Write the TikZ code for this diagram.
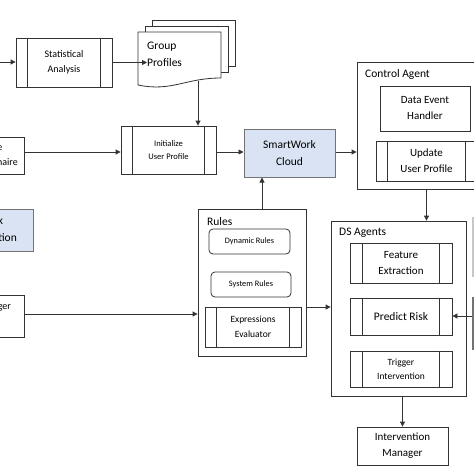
\documentclass[tikz,border=0pt]{standalone}
\usepackage{fontspec}
\setmainfont{Carlito}
\usetikzlibrary{arrows.meta,calc}
\definecolor{lblue}{RGB}{218,227,243}
\newcommand{\procbars}[2]{\draw[ln] ([xshift=#2]#1.north west) -- ([xshift=#2]#1.south west) ([xshift=-#2]#1.north east) -- ([xshift=-#2]#1.south east);}
\begin{document}
\begin{tikzpicture}[x=1pt,y=-1pt,
  ln/.style={draw=black!80,line width=0.8pt},
  arr/.style={ln,-{Triangle[length=5pt,width=5pt]}},
  box/.style={ln,rectangle,inner sep=0pt,align=center,fill=white},
  rbox/.style={box,rounded corners=4pt},
  bluebox/.style={box,fill=lblue,draw=black!55,line width=1pt},
  fa/.style={font=\fontsize{10}{15}\selectfont},
  fm/.style={font=\fontsize{11}{16}\selectfont},
  fb/.style={font=\fontsize{11.5}{17}\selectfont},
  fs/.style={font=\fontsize{8.5}{13.5}\selectfont},
  fl/.style={font=\fontsize{11.5}{13}\selectfont,anchor=west,inner sep=0pt}]
\useasboundingbox (0,0) rectangle (474,474);
\clip (0,0) rectangle (474,474);
% left cut-off boxes
\coordinate (lin) at (-5,62);
\node[box,fa,minimum width=70pt,minimum height=37pt] (quest) at (-11,155.5) {Online\\Questionnaire};
\node[bluebox,fb,minimum width=85pt,minimum height=42pt] (work) at (-9.5,230) {Work\\Application};
\node[box,fa,minimum width=54pt,minimum height=42pt] (trig) at (-3,316) {Trigger\\\strut};
% statistical analysis
\node[box,fa,minimum width=96pt,minimum height=49pt] (stat) at (64,62.5) {Statistical\\Analysis};
\procbars{stat}{12pt}
% group profiles
\draw[ln,fill=white] (152,20) rectangle (235,66);
\draw[ln,fill=white] (145,26) rectangle (228,72);
\draw[ln,fill=white] (138,32) -- (221,32) -- (221,78) .. controls (185,78) and (172,92) .. (138,85) -- cycle;
\node[fb,anchor=north west,align=left,inner sep=0pt] (gp) at (147,42) {Group\\Profiles};
\coordinate (gpb) at (198,80.5);
% initialize
\node[box,fs,minimum width=95pt,minimum height=48pt] (init) at (168.5,150) {Initialize\\User Profile};
\procbars{init}{12pt}
% cloud
\node[bluebox,fb,minimum width=91pt,minimum height=48pt] (cloud) at (289.5,153) {SmartWork\\Cloud};
% control agent
\node[box,minimum width=123pt,minimum height=127pt] (ctrl) at (418.5,125.5) {};
\node[fl] (ctrll) at (365,74) {Control Agent};
\node[box,fm,minimum width=90pt,minimum height=45pt] (deh) at (425,108.5) {Data Event\\Handler};
\node[box,fm,minimum width=101pt,minimum height=40pt] (upd) at (426.5,161) {Update\\User Profile};
\procbars{upd}{12pt}
% rules
\node[box,minimum width=108pt,minimum height=147pt] (rules) at (252,282.5) {};
\node[fl] (rulesl) at (207,222) {Rules};
\node[rbox,font=\fontsize{8.3}{10}\selectfont,minimum width=81pt,minimum height=25pt] (dyn) at (249.5,241.5) {Dynamic Rules};
\node[rbox,font=\fontsize{8.3}{10}\selectfont,minimum width=80pt,minimum height=25pt] (sys) at (251,284.5) {System Rules};
\node[box,font=\fontsize{9.5}{15}\selectfont,minimum width=96pt,minimum height=40pt] (expr) at (253,327) {Expressions\\Evaluator};
\procbars{expr}{12pt}
% DS agents
\node[box,minimum width=135pt,minimum height=175pt] (ds) at (398.5,308.5) {};
\node[fl] (dsl) at (339,233) {DS Agents};
\node[box,fm,minimum width=102pt,minimum height=40pt] (feat) at (401,263) {Feature\\Extraction};
\procbars{feat}{13pt}
\node[box,font=\fontsize{11.5}{14}\selectfont,minimum width=102pt,minimum height=37pt] (pred) at (401,316.5) {Predict Risk};
\procbars{pred}{13pt}
\node[box,font=\fontsize{9.5}{14}\selectfont,minimum width=102pt,minimum height=36pt] (tint) at (401,369) {Trigger\\Intervention};
\procbars{tint}{13pt}
\node[box,fm,minimum width=91pt,minimum height=38pt] (im) at (402.5,446) {Intervention\\Manager};
% right cut-off boxes
\node[draw=none,fill=black!22,minimum width=40pt,minimum height=60pt,inner sep=0pt] (rlight) at (492,247) {};
\node[draw=none,fill=black!55,minimum width=40pt,minimum height=53pt,inner sep=0pt] (rdark) at (492,323.5) {};
% connectors
\draw[arr] (lin) -- (stat.west |- lin);
\draw[arr] (stat.east) -- (stat.east -| gp.west) ;
\draw[arr] (gpb) -- (gpb |- init.north);
\draw[arr] (quest.east |- 0,152) -- (init.west |- 0,152);
\draw[arr] (init.east |- 0,152) -- (cloud.west |- 0,152);
\draw[arr] (cloud.east |- 0,152) -- (ctrl.west |- 0,152);
\draw[arr] (upd |- ctrl.south) -- (upd |- ds.north);
\draw[arr] (rules.north -| 262,0) -- (cloud.south -| 262,0);
\draw[arr] (trig.east |- 0,314) -- (rules.west |- 0,314);
\draw[arr] (rules.east |- 0,307) -- (ds.west |- 0,307);
\draw[arr] (rdark.west |- 0,316) -- (pred.east |- 0,316);
\draw[arr] (im |- ds.south) -- (im.north);
\end{tikzpicture}
\end{document}
